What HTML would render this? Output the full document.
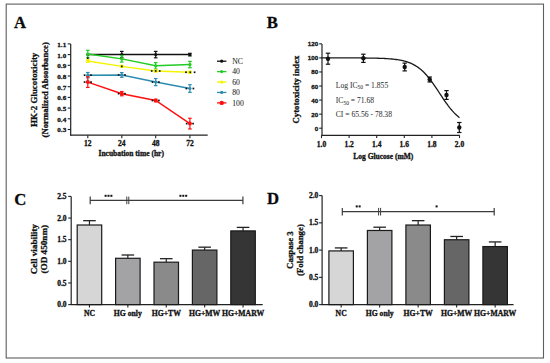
<!DOCTYPE html>
<html><head><meta charset="utf-8"><style>
html,body{margin:0;padding:0;background:#fff;width:550px;height:363px;overflow:hidden}
svg{display:block}
</style></head><body>
<svg width="550" height="363" viewBox="0 0 550 363">
<rect width="550" height="363" fill="#fff"/>
<rect x="6.2" y="4.1" width="537.3" height="353.9" fill="none" stroke="#5e5e5e" stroke-width="1.1"/>
<text x="19.95" y="28.3" font-size="16.7" text-anchor="middle" font-weight="bold" font-family='"Liberation Serif", serif' fill="#0a0a0a" stroke="#0a0a0a" stroke-width="0.3" >A</text>
<text x="272.25" y="27.9" font-size="16.7" text-anchor="middle" font-weight="bold" font-family='"Liberation Serif", serif' fill="#0a0a0a" stroke="#0a0a0a" stroke-width="0.3" >B</text>
<text x="20.25" y="204.8" font-size="16.7" text-anchor="middle" font-weight="bold" font-family='"Liberation Serif", serif' fill="#0a0a0a" stroke="#0a0a0a" stroke-width="0.3" >C</text>
<text x="273.1" y="204.2" font-size="16.7" text-anchor="middle" font-weight="bold" font-family='"Liberation Serif", serif' fill="#0a0a0a" stroke="#0a0a0a" stroke-width="0.3" >D</text>
<line x1="70.7" y1="43.9" x2="70.7" y2="135.7" stroke="#222" stroke-width="1.2"/>
<line x1="70.2" y1="135.2" x2="207.7" y2="135.2" stroke="#222" stroke-width="1.2"/>
<line x1="67.7" y1="129.5" x2="70.7" y2="129.5" stroke="#222" stroke-width="1.1"/>
<text x="66.2" y="132.45" font-size="7.1" text-anchor="end" font-weight="bold" font-family='"Liberation Serif", serif' fill="#111" stroke="#111" stroke-width="0.3" >0.3</text>
<line x1="67.7" y1="118.8" x2="70.7" y2="118.8" stroke="#222" stroke-width="1.1"/>
<text x="66.2" y="121.75" font-size="7.1" text-anchor="end" font-weight="bold" font-family='"Liberation Serif", serif' fill="#111" stroke="#111" stroke-width="0.3" >0.4</text>
<line x1="67.7" y1="108.1" x2="70.7" y2="108.1" stroke="#222" stroke-width="1.1"/>
<text x="66.2" y="111.05" font-size="7.1" text-anchor="end" font-weight="bold" font-family='"Liberation Serif", serif' fill="#111" stroke="#111" stroke-width="0.3" >0.5</text>
<line x1="67.7" y1="97.4" x2="70.7" y2="97.4" stroke="#222" stroke-width="1.1"/>
<text x="66.2" y="100.35000000000001" font-size="7.1" text-anchor="end" font-weight="bold" font-family='"Liberation Serif", serif' fill="#111" stroke="#111" stroke-width="0.3" >0.6</text>
<line x1="67.7" y1="86.7" x2="70.7" y2="86.7" stroke="#222" stroke-width="1.1"/>
<text x="66.2" y="89.65" font-size="7.1" text-anchor="end" font-weight="bold" font-family='"Liberation Serif", serif' fill="#111" stroke="#111" stroke-width="0.3" >0.7</text>
<line x1="67.7" y1="76.0" x2="70.7" y2="76.0" stroke="#222" stroke-width="1.1"/>
<text x="66.2" y="78.95" font-size="7.1" text-anchor="end" font-weight="bold" font-family='"Liberation Serif", serif' fill="#111" stroke="#111" stroke-width="0.3" >0.8</text>
<line x1="67.7" y1="65.3" x2="70.7" y2="65.3" stroke="#222" stroke-width="1.1"/>
<text x="66.2" y="68.25" font-size="7.1" text-anchor="end" font-weight="bold" font-family='"Liberation Serif", serif' fill="#111" stroke="#111" stroke-width="0.3" >0.9</text>
<line x1="67.7" y1="54.60000000000001" x2="70.7" y2="54.60000000000001" stroke="#222" stroke-width="1.1"/>
<text x="66.2" y="57.55000000000001" font-size="7.1" text-anchor="end" font-weight="bold" font-family='"Liberation Serif", serif' fill="#111" stroke="#111" stroke-width="0.3" >1.0</text>
<line x1="67.7" y1="43.89999999999999" x2="70.7" y2="43.89999999999999" stroke="#222" stroke-width="1.1"/>
<text x="66.2" y="46.849999999999994" font-size="7.1" text-anchor="end" font-weight="bold" font-family='"Liberation Serif", serif' fill="#111" stroke="#111" stroke-width="0.3" >1.1</text>
<line x1="87.8" y1="135.2" x2="87.8" y2="138.2" stroke="#222" stroke-width="1.1"/>
<text x="87.8" y="145.8" font-size="7.5" text-anchor="middle" font-weight="bold" font-family='"Liberation Serif", serif' fill="#111" stroke="#111" stroke-width="0.3" >12</text>
<line x1="121.8" y1="135.2" x2="121.8" y2="138.2" stroke="#222" stroke-width="1.1"/>
<text x="121.8" y="145.8" font-size="7.5" text-anchor="middle" font-weight="bold" font-family='"Liberation Serif", serif' fill="#111" stroke="#111" stroke-width="0.3" >24</text>
<line x1="155.7" y1="135.2" x2="155.7" y2="138.2" stroke="#222" stroke-width="1.1"/>
<text x="155.7" y="145.8" font-size="7.5" text-anchor="middle" font-weight="bold" font-family='"Liberation Serif", serif' fill="#111" stroke="#111" stroke-width="0.3" >48</text>
<line x1="189.9" y1="135.2" x2="189.9" y2="138.2" stroke="#222" stroke-width="1.1"/>
<text x="189.9" y="145.8" font-size="7.5" text-anchor="middle" font-weight="bold" font-family='"Liberation Serif", serif' fill="#111" stroke="#111" stroke-width="0.3" >72</text>
<text x="131.2" y="155.7" font-size="7.5" text-anchor="middle" font-weight="bold" font-family='"Liberation Serif", serif' fill="#111" stroke="#111" stroke-width="0.3" >Incubation time (hr)</text>
<g transform="translate(37.3,89.8) rotate(-90)">
<text x="0" y="0" font-size="8.9" text-anchor="middle" font-weight="bold" font-family='"Liberation Serif", serif' fill="#111" stroke="#111" stroke-width="0.3" >HK-2 Glucotoxicity</text>
<text x="0" y="10.3" font-size="8.7" text-anchor="middle" font-weight="bold" font-family='"Liberation Serif", serif' fill="#111" stroke="#111" stroke-width="0.3" >(Normalized Absorbance)</text>
</g>
<polyline points="87.8,54.60 121.8,54.60 155.7,54.60 189.9,54.60" fill="none" stroke="#111111" stroke-width="1.5"/>
<circle cx="87.8" cy="54.60" r="1.6" fill="#111111"/>
<line x1="121.8" y1="51.39000000000001" x2="121.8" y2="57.81000000000001" stroke="#111111" stroke-width="1.2"/>
<line x1="120.0" y1="51.39000000000001" x2="123.6" y2="51.39000000000001" stroke="#111111" stroke-width="1.2"/>
<line x1="120.0" y1="57.81000000000001" x2="123.6" y2="57.81000000000001" stroke="#111111" stroke-width="1.2"/>
<circle cx="121.8" cy="54.60" r="1.6" fill="#111111"/>
<line x1="155.7" y1="51.39000000000001" x2="155.7" y2="57.81000000000001" stroke="#111111" stroke-width="1.2"/>
<line x1="153.89999999999998" y1="51.39000000000001" x2="157.5" y2="51.39000000000001" stroke="#111111" stroke-width="1.2"/>
<line x1="153.89999999999998" y1="57.81000000000001" x2="157.5" y2="57.81000000000001" stroke="#111111" stroke-width="1.2"/>
<circle cx="155.7" cy="54.60" r="1.6" fill="#111111"/>
<line x1="189.9" y1="53.31600000000001" x2="189.9" y2="55.88400000000001" stroke="#111111" stroke-width="1.2"/>
<line x1="188.1" y1="53.31600000000001" x2="191.70000000000002" y2="53.31600000000001" stroke="#111111" stroke-width="1.2"/>
<line x1="188.1" y1="55.88400000000001" x2="191.70000000000002" y2="55.88400000000001" stroke="#111111" stroke-width="1.2"/>
<circle cx="189.9" cy="54.60" r="1.6" fill="#111111"/>
<polyline points="87.8,54.07 121.8,58.88 155.7,65.84 189.9,64.55" fill="none" stroke="#22cc22" stroke-width="1.5"/>
<line x1="87.8" y1="50.320000000000014" x2="87.8" y2="57.81000000000001" stroke="#22cc22" stroke-width="1.2"/>
<line x1="86.0" y1="50.320000000000014" x2="89.6" y2="50.320000000000014" stroke="#22cc22" stroke-width="1.2"/>
<line x1="86.0" y1="57.81000000000001" x2="89.6" y2="57.81000000000001" stroke="#22cc22" stroke-width="1.2"/>
<circle cx="87.8" cy="54.07" r="1.6" fill="#22cc22"/>
<line x1="121.8" y1="55.67000000000001" x2="121.8" y2="62.09000000000001" stroke="#22cc22" stroke-width="1.2"/>
<line x1="120.0" y1="55.67000000000001" x2="123.6" y2="55.67000000000001" stroke="#22cc22" stroke-width="1.2"/>
<line x1="120.0" y1="62.09000000000001" x2="123.6" y2="62.09000000000001" stroke="#22cc22" stroke-width="1.2"/>
<circle cx="121.8" cy="58.88" r="1.6" fill="#22cc22"/>
<line x1="155.7" y1="62.62500000000001" x2="155.7" y2="69.045" stroke="#22cc22" stroke-width="1.2"/>
<line x1="153.89999999999998" y1="62.62500000000001" x2="157.5" y2="62.62500000000001" stroke="#22cc22" stroke-width="1.2"/>
<line x1="153.89999999999998" y1="69.045" x2="157.5" y2="69.045" stroke="#22cc22" stroke-width="1.2"/>
<circle cx="155.7" cy="65.84" r="1.6" fill="#22cc22"/>
<line x1="189.9" y1="61.341" x2="189.9" y2="67.761" stroke="#22cc22" stroke-width="1.2"/>
<line x1="188.1" y1="61.341" x2="191.70000000000002" y2="61.341" stroke="#22cc22" stroke-width="1.2"/>
<line x1="188.1" y1="67.761" x2="191.70000000000002" y2="67.761" stroke="#22cc22" stroke-width="1.2"/>
<circle cx="189.9" cy="64.55" r="1.6" fill="#22cc22"/>
<polyline points="87.8,61.02 121.8,66.37 155.7,70.97 189.9,72.26" fill="none" stroke="#f4f400" stroke-width="1.5"/>
<line x1="87.8" y1="59.73600000000001" x2="87.8" y2="62.30400000000001" stroke="#f4f400" stroke-width="1.2"/>
<line x1="86.0" y1="59.73600000000001" x2="89.6" y2="59.73600000000001" stroke="#f4f400" stroke-width="1.2"/>
<line x1="86.0" y1="62.30400000000001" x2="89.6" y2="62.30400000000001" stroke="#f4f400" stroke-width="1.2"/>
<circle cx="87.8" cy="61.02" r="1.6" fill="#f4f400"/>
<line x1="121.8" y1="65.3" x2="121.8" y2="67.43999999999998" stroke="#f4f400" stroke-width="1.2"/>
<line x1="120.0" y1="65.3" x2="123.6" y2="65.3" stroke="#f4f400" stroke-width="1.2"/>
<line x1="120.0" y1="67.43999999999998" x2="123.6" y2="67.43999999999998" stroke="#f4f400" stroke-width="1.2"/>
<circle cx="121.8" cy="66.37" r="1.6" fill="#f4f400"/>
<line x1="155.7" y1="69.90100000000001" x2="155.7" y2="72.041" stroke="#f4f400" stroke-width="1.2"/>
<line x1="153.89999999999998" y1="69.90100000000001" x2="157.5" y2="69.90100000000001" stroke="#f4f400" stroke-width="1.2"/>
<line x1="153.89999999999998" y1="72.041" x2="157.5" y2="72.041" stroke="#f4f400" stroke-width="1.2"/>
<circle cx="155.7" cy="70.97" r="1.6" fill="#f4f400"/>
<line x1="189.9" y1="71.18500000000002" x2="189.9" y2="73.325" stroke="#f4f400" stroke-width="1.2"/>
<line x1="188.1" y1="71.18500000000002" x2="191.70000000000002" y2="71.18500000000002" stroke="#f4f400" stroke-width="1.2"/>
<line x1="188.1" y1="73.325" x2="191.70000000000002" y2="73.325" stroke="#f4f400" stroke-width="1.2"/>
<circle cx="189.9" cy="72.26" r="1.6" fill="#f4f400"/>
<polyline points="87.8,75.14 121.8,74.93 155.7,82.10 189.9,88.52" fill="none" stroke="#2b8cb0" stroke-width="1.5"/>
<line x1="87.8" y1="72.46900000000001" x2="87.8" y2="77.819" stroke="#2b8cb0" stroke-width="1.2"/>
<line x1="86.0" y1="72.46900000000001" x2="89.6" y2="72.46900000000001" stroke="#2b8cb0" stroke-width="1.2"/>
<line x1="86.0" y1="77.819" x2="89.6" y2="77.819" stroke="#2b8cb0" stroke-width="1.2"/>
<circle cx="87.8" cy="75.14" r="1.6" fill="#2b8cb0"/>
<line x1="121.8" y1="72.57600000000001" x2="121.8" y2="77.284" stroke="#2b8cb0" stroke-width="1.2"/>
<line x1="120.0" y1="72.57600000000001" x2="123.6" y2="72.57600000000001" stroke="#2b8cb0" stroke-width="1.2"/>
<line x1="120.0" y1="77.284" x2="123.6" y2="77.284" stroke="#2b8cb0" stroke-width="1.2"/>
<circle cx="121.8" cy="74.93" r="1.6" fill="#2b8cb0"/>
<line x1="155.7" y1="78.56799999999998" x2="155.7" y2="85.63" stroke="#2b8cb0" stroke-width="1.2"/>
<line x1="153.89999999999998" y1="78.56799999999998" x2="157.5" y2="78.56799999999998" stroke="#2b8cb0" stroke-width="1.2"/>
<line x1="153.89999999999998" y1="85.63" x2="157.5" y2="85.63" stroke="#2b8cb0" stroke-width="1.2"/>
<circle cx="155.7" cy="82.10" r="1.6" fill="#2b8cb0"/>
<line x1="189.9" y1="84.66699999999999" x2="189.9" y2="92.371" stroke="#2b8cb0" stroke-width="1.2"/>
<line x1="188.1" y1="84.66699999999999" x2="191.70000000000002" y2="84.66699999999999" stroke="#2b8cb0" stroke-width="1.2"/>
<line x1="188.1" y1="92.371" x2="191.70000000000002" y2="92.371" stroke="#2b8cb0" stroke-width="1.2"/>
<circle cx="189.9" cy="88.52" r="1.6" fill="#2b8cb0"/>
<polyline points="87.8,82.10 121.8,93.66 155.7,100.50 189.9,123.61" fill="none" stroke="#ff1010" stroke-width="1.5"/>
<line x1="87.8" y1="76.749" x2="87.8" y2="87.44899999999998" stroke="#ff1010" stroke-width="1.2"/>
<line x1="86.0" y1="76.749" x2="89.6" y2="76.749" stroke="#ff1010" stroke-width="1.2"/>
<line x1="86.0" y1="87.44899999999998" x2="89.6" y2="87.44899999999998" stroke="#ff1010" stroke-width="1.2"/>
<circle cx="87.8" cy="82.10" r="2.0" fill="#ff1010"/>
<line x1="121.8" y1="91.515" x2="121.8" y2="95.795" stroke="#ff1010" stroke-width="1.2"/>
<line x1="120.0" y1="91.515" x2="123.6" y2="91.515" stroke="#ff1010" stroke-width="1.2"/>
<line x1="120.0" y1="95.795" x2="123.6" y2="95.795" stroke="#ff1010" stroke-width="1.2"/>
<circle cx="121.8" cy="93.66" r="2.0" fill="#ff1010"/>
<line x1="155.7" y1="99.219" x2="155.7" y2="101.787" stroke="#ff1010" stroke-width="1.2"/>
<line x1="153.89999999999998" y1="99.219" x2="157.5" y2="99.219" stroke="#ff1010" stroke-width="1.2"/>
<line x1="153.89999999999998" y1="101.787" x2="157.5" y2="101.787" stroke="#ff1010" stroke-width="1.2"/>
<circle cx="155.7" cy="100.50" r="2.0" fill="#ff1010"/>
<line x1="189.9" y1="118.265" x2="189.9" y2="128.965" stroke="#ff1010" stroke-width="1.2"/>
<line x1="188.1" y1="118.265" x2="191.70000000000002" y2="118.265" stroke="#ff1010" stroke-width="1.2"/>
<line x1="188.1" y1="128.965" x2="191.70000000000002" y2="128.965" stroke="#ff1010" stroke-width="1.2"/>
<circle cx="189.9" cy="123.61" r="2.0" fill="#ff1010"/>
<rect x="83.75" y="74.29" width="1.7" height="1.7" fill="#111"/>
<rect x="90.15" y="74.29" width="1.7" height="1.7" fill="#111"/>
<rect x="83.75" y="81.25" width="1.7" height="1.7" fill="#111"/>
<rect x="90.15" y="81.25" width="1.7" height="1.7" fill="#111"/>
<rect x="86.95" y="57.25" width="1.7" height="1.7" fill="#111"/>
<rect x="120.95" y="65.52" width="1.7" height="1.7" fill="#111"/>
<rect x="117.75" y="74.08" width="1.7" height="1.7" fill="#111"/>
<rect x="124.15" y="74.08" width="1.7" height="1.7" fill="#111"/>
<rect x="117.75" y="92.81" width="1.7" height="1.7" fill="#111"/>
<rect x="124.15" y="92.81" width="1.7" height="1.7" fill="#111"/>
<rect x="154.85" y="70.12" width="1.7" height="1.7" fill="#111"/>
<rect x="150.85" y="70.12" width="1.7" height="1.7" fill="#111"/>
<rect x="158.85" y="70.12" width="1.7" height="1.7" fill="#111"/>
<rect x="151.65" y="81.25" width="1.7" height="1.7" fill="#111"/>
<rect x="158.05" y="81.25" width="1.7" height="1.7" fill="#111"/>
<rect x="151.65" y="99.65" width="1.7" height="1.7" fill="#111"/>
<rect x="158.05" y="99.65" width="1.7" height="1.7" fill="#111"/>
<rect x="189.45" y="71.41" width="1.7" height="1.7" fill="#111"/>
<rect x="185.15" y="71.41" width="1.7" height="1.7" fill="#111"/>
<rect x="193.75" y="71.41" width="1.7" height="1.7" fill="#111"/>
<rect x="185.55" y="87.67" width="1.7" height="1.7" fill="#111"/>
<rect x="192.55" y="87.67" width="1.7" height="1.7" fill="#111"/>
<rect x="185.85" y="122.77" width="1.7" height="1.7" fill="#111"/>
<rect x="192.25" y="122.77" width="1.7" height="1.7" fill="#111"/>
<line x1="217" y1="61.2" x2="226.4" y2="61.2" stroke="#111111" stroke-width="1.3"/>
<circle cx="221.7" cy="61.20" r="1.6" fill="#111111"/>
<text x="232.2" y="64.0" font-size="7.7" text-anchor="start" font-weight="normal" font-family='"Liberation Serif", serif' fill="#222" stroke="#222" stroke-width="0.05" >NC</text>
<line x1="217" y1="71.62" x2="226.4" y2="71.62" stroke="#22cc22" stroke-width="1.3"/>
<circle cx="221.7" cy="71.62" r="1.6" fill="#22cc22"/>
<text x="232.2" y="74.42" font-size="7.7" text-anchor="start" font-weight="normal" font-family='"Liberation Serif", serif' fill="#222" stroke="#222" stroke-width="0.05" >40</text>
<line x1="217" y1="82.04" x2="226.4" y2="82.04" stroke="#f4f400" stroke-width="1.3"/>
<circle cx="221.7" cy="82.04" r="1.6" fill="#f4f400"/>
<text x="232.2" y="84.84" font-size="7.7" text-anchor="start" font-weight="normal" font-family='"Liberation Serif", serif' fill="#222" stroke="#222" stroke-width="0.05" >60</text>
<line x1="217" y1="92.46000000000001" x2="226.4" y2="92.46000000000001" stroke="#2b8cb0" stroke-width="1.3"/>
<circle cx="221.7" cy="92.46" r="1.6" fill="#2b8cb0"/>
<text x="232.2" y="95.26" font-size="7.7" text-anchor="start" font-weight="normal" font-family='"Liberation Serif", serif' fill="#222" stroke="#222" stroke-width="0.05" >80</text>
<line x1="217" y1="102.88" x2="226.4" y2="102.88" stroke="#ff1010" stroke-width="1.3"/>
<circle cx="221.7" cy="102.88" r="2.2" fill="#ff1010"/>
<text x="232.2" y="105.67999999999999" font-size="7.7" text-anchor="start" font-weight="normal" font-family='"Liberation Serif", serif' fill="#222" stroke="#222" stroke-width="0.05" >100</text>
<line x1="322" y1="43.9" x2="322" y2="135.8" stroke="#222" stroke-width="1.2"/>
<line x1="321.5" y1="135.3" x2="459.8" y2="135.3" stroke="#222" stroke-width="1.2"/>
<line x1="319.2" y1="128.2" x2="322" y2="128.2" stroke="#222" stroke-width="1.1"/>
<text x="318.1" y="130.7" font-size="6.2" text-anchor="end" font-weight="bold" font-family='"Liberation Sans", sans-serif' fill="#111" stroke="#111" stroke-width="0.3" >0</text>
<line x1="319.2" y1="114.13999999999999" x2="322" y2="114.13999999999999" stroke="#222" stroke-width="1.1"/>
<text x="318.1" y="116.63999999999999" font-size="6.2" text-anchor="end" font-weight="bold" font-family='"Liberation Sans", sans-serif' fill="#111" stroke="#111" stroke-width="0.3" >20</text>
<line x1="319.2" y1="100.07999999999998" x2="322" y2="100.07999999999998" stroke="#222" stroke-width="1.1"/>
<text x="318.1" y="102.57999999999998" font-size="6.2" text-anchor="end" font-weight="bold" font-family='"Liberation Sans", sans-serif' fill="#111" stroke="#111" stroke-width="0.3" >40</text>
<line x1="319.2" y1="86.01999999999998" x2="322" y2="86.01999999999998" stroke="#222" stroke-width="1.1"/>
<text x="318.1" y="88.51999999999998" font-size="6.2" text-anchor="end" font-weight="bold" font-family='"Liberation Sans", sans-serif' fill="#111" stroke="#111" stroke-width="0.3" >60</text>
<line x1="319.2" y1="71.96" x2="322" y2="71.96" stroke="#222" stroke-width="1.1"/>
<text x="318.1" y="74.46" font-size="6.2" text-anchor="end" font-weight="bold" font-family='"Liberation Sans", sans-serif' fill="#111" stroke="#111" stroke-width="0.3" >80</text>
<line x1="319.2" y1="57.89999999999999" x2="322" y2="57.89999999999999" stroke="#222" stroke-width="1.1"/>
<text x="318.1" y="60.39999999999999" font-size="6.2" text-anchor="end" font-weight="bold" font-family='"Liberation Sans", sans-serif' fill="#111" stroke="#111" stroke-width="0.3" >100</text>
<line x1="319.2" y1="43.83999999999999" x2="322" y2="43.83999999999999" stroke="#222" stroke-width="1.1"/>
<text x="318.1" y="46.33999999999999" font-size="6.2" text-anchor="end" font-weight="bold" font-family='"Liberation Sans", sans-serif' fill="#111" stroke="#111" stroke-width="0.3" >120</text>
<line x1="321.5" y1="135.3" x2="321.5" y2="138.10000000000002" stroke="#222" stroke-width="1.1"/>
<text x="321.5" y="146.8" font-size="7.5" text-anchor="middle" font-weight="bold" font-family='"Liberation Serif", serif' fill="#111" stroke="#111" stroke-width="0.3" >1.0</text>
<line x1="349.1" y1="135.3" x2="349.1" y2="138.10000000000002" stroke="#222" stroke-width="1.1"/>
<text x="349.1" y="146.8" font-size="7.5" text-anchor="middle" font-weight="bold" font-family='"Liberation Serif", serif' fill="#111" stroke="#111" stroke-width="0.3" >1.2</text>
<line x1="376.7" y1="135.3" x2="376.7" y2="138.10000000000002" stroke="#222" stroke-width="1.1"/>
<text x="376.7" y="146.8" font-size="7.5" text-anchor="middle" font-weight="bold" font-family='"Liberation Serif", serif' fill="#111" stroke="#111" stroke-width="0.3" >1.4</text>
<line x1="404.3" y1="135.3" x2="404.3" y2="138.10000000000002" stroke="#222" stroke-width="1.1"/>
<text x="404.3" y="146.8" font-size="7.5" text-anchor="middle" font-weight="bold" font-family='"Liberation Serif", serif' fill="#111" stroke="#111" stroke-width="0.3" >1.6</text>
<line x1="431.9" y1="135.3" x2="431.9" y2="138.10000000000002" stroke="#222" stroke-width="1.1"/>
<text x="431.9" y="146.8" font-size="7.5" text-anchor="middle" font-weight="bold" font-family='"Liberation Serif", serif' fill="#111" stroke="#111" stroke-width="0.3" >1.8</text>
<line x1="459.5" y1="135.3" x2="459.5" y2="138.10000000000002" stroke="#222" stroke-width="1.1"/>
<text x="459.5" y="146.8" font-size="7.5" text-anchor="middle" font-weight="bold" font-family='"Liberation Serif", serif' fill="#111" stroke="#111" stroke-width="0.3" >2.0</text>
<text x="383.3" y="158.8" font-size="7.5" text-anchor="middle" font-weight="bold" font-family='"Liberation Serif", serif' fill="#111" stroke="#111" stroke-width="0.3" >Log Glucose (mM)</text>
<g transform="translate(298.9,89.55) rotate(-90)">
<text x="0" y="0" font-size="8.7" text-anchor="middle" font-weight="bold" font-family='"Liberation Serif", serif' fill="#111" stroke="#111" stroke-width="0.3" >Cytotoxicity index</text>
</g>
<polyline points="321.50,57.90 322.88,57.90 324.26,57.90 325.64,57.90 327.02,57.90 328.40,57.90 329.78,57.91 331.16,57.91 332.54,57.91 333.92,57.91 335.30,57.91 336.68,57.91 338.06,57.91 339.44,57.91 340.82,57.91 342.20,57.92 343.58,57.92 344.96,57.92 346.34,57.92 347.72,57.92 349.10,57.93 350.48,57.93 351.86,57.94 353.24,57.94 354.62,57.94 356.00,57.95 357.38,57.96 358.76,57.96 360.14,57.97 361.52,57.98 362.90,57.99 364.28,58.00 365.66,58.02 367.04,58.03 368.42,58.05 369.80,58.07 371.18,58.09 372.56,58.11 373.94,58.14 375.32,58.17 376.70,58.20 378.08,58.24 379.46,58.28 380.84,58.33 382.22,58.39 383.60,58.45 384.98,58.52 386.36,58.59 387.74,58.68 389.12,58.78 390.50,58.89 391.88,59.01 393.26,59.15 394.64,59.31 396.02,59.48 397.40,59.68 398.78,59.90 400.16,60.14 401.54,60.42 402.92,60.73 404.30,61.07 405.68,61.45 407.06,61.88 408.44,62.35 409.82,62.88 411.20,63.46 412.58,64.11 413.96,64.82 415.34,65.60 416.72,66.46 418.10,67.40 419.48,68.43 420.86,69.55 422.24,70.76 423.62,72.07 425.00,73.47 426.38,74.97 427.76,76.56 429.14,78.25 430.52,80.02 431.90,81.88 433.28,83.80 434.66,85.79 436.04,87.83 437.42,89.90 438.80,92.00 440.18,94.10 441.56,96.20 442.94,98.27 444.32,100.31 445.70,102.30 447.08,104.22 448.46,106.08 449.84,107.85 451.22,109.54 452.60,111.13 453.98,112.63 455.36,114.03 456.74,115.34 458.12,116.55 459.50,117.67" fill="none" stroke="#1a1a1a" stroke-width="1.3"/>
<line x1="328" y1="53.2" x2="328" y2="64.2" stroke="#111" stroke-width="1.2"/>
<line x1="325.8" y1="53.2" x2="330.2" y2="53.2" stroke="#111" stroke-width="1.2"/>
<line x1="325.8" y1="64.2" x2="330.2" y2="64.2" stroke="#111" stroke-width="1.2"/>
<circle cx="328" cy="58.7" r="2.2" fill="#111"/>
<line x1="363.4" y1="54.199999999999996" x2="363.4" y2="62.4" stroke="#111" stroke-width="1.2"/>
<line x1="361.2" y1="54.199999999999996" x2="365.59999999999997" y2="54.199999999999996" stroke="#111" stroke-width="1.2"/>
<line x1="361.2" y1="62.4" x2="365.59999999999997" y2="62.4" stroke="#111" stroke-width="1.2"/>
<circle cx="363.4" cy="58.3" r="2.2" fill="#111"/>
<line x1="404.7" y1="63.1" x2="404.7" y2="70.9" stroke="#111" stroke-width="1.2"/>
<line x1="402.5" y1="63.1" x2="406.9" y2="63.1" stroke="#111" stroke-width="1.2"/>
<line x1="402.5" y1="70.9" x2="406.9" y2="70.9" stroke="#111" stroke-width="1.2"/>
<circle cx="404.7" cy="67" r="2.2" fill="#111"/>
<line x1="429.7" y1="77.0" x2="429.7" y2="82.0" stroke="#111" stroke-width="1.2"/>
<line x1="427.5" y1="77.0" x2="431.9" y2="77.0" stroke="#111" stroke-width="1.2"/>
<line x1="427.5" y1="82.0" x2="431.9" y2="82.0" stroke="#111" stroke-width="1.2"/>
<circle cx="429.7" cy="79.5" r="2.2" fill="#111"/>
<line x1="446.5" y1="90.6" x2="446.5" y2="99.4" stroke="#111" stroke-width="1.2"/>
<line x1="444.3" y1="90.6" x2="448.7" y2="90.6" stroke="#111" stroke-width="1.2"/>
<line x1="444.3" y1="99.4" x2="448.7" y2="99.4" stroke="#111" stroke-width="1.2"/>
<circle cx="446.5" cy="95" r="2.2" fill="#111"/>
<line x1="459.3" y1="122.5" x2="459.3" y2="132.5" stroke="#111" stroke-width="1.2"/>
<line x1="457.1" y1="122.5" x2="461.5" y2="122.5" stroke="#111" stroke-width="1.2"/>
<line x1="457.1" y1="132.5" x2="461.5" y2="132.5" stroke="#111" stroke-width="1.2"/>
<circle cx="459.3" cy="127.5" r="2.2" fill="#111"/>
<text x="335.8" y="87.8" font-size="7.6" text-anchor="start" font-weight="normal" font-family='"Liberation Serif", serif' fill="#333" stroke="#333" stroke-width="0.05" >Log IC<tspan font-size="5.5" dy="1.6">50</tspan><tspan dy="-1.6"> = 1.855</tspan></text>
<text x="335.8" y="103.4" font-size="7.6" text-anchor="start" font-weight="normal" font-family='"Liberation Serif", serif' fill="#333" stroke="#333" stroke-width="0.05" >IC<tspan font-size="5.5" dy="1.6">50</tspan><tspan dy="-1.6"> = 71.68</tspan></text>
<text x="335.8" y="117.2" font-size="7.6" text-anchor="start" font-weight="normal" font-family='"Liberation Serif", serif' fill="#333" stroke="#333" stroke-width="0.05" >CI = 65.56 - 78.38</text>
<line x1="71.2" y1="196.4" x2="71.2" y2="305.1" stroke="#222" stroke-width="1.2"/>
<line x1="70.7" y1="304.6" x2="262.7" y2="304.6" stroke="#222" stroke-width="1.2"/>
<line x1="68.2" y1="304.6" x2="71.2" y2="304.6" stroke="#222" stroke-width="1.1"/>
<text x="66.60000000000001" y="307.20000000000005" font-size="7.5" text-anchor="end" font-weight="bold" font-family='"Liberation Serif", serif' fill="#111" stroke="#111" stroke-width="0.3" >0.0</text>
<line x1="68.2" y1="282.96000000000004" x2="71.2" y2="282.96000000000004" stroke="#222" stroke-width="1.1"/>
<text x="66.60000000000001" y="285.56000000000006" font-size="7.5" text-anchor="end" font-weight="bold" font-family='"Liberation Serif", serif' fill="#111" stroke="#111" stroke-width="0.3" >0.5</text>
<line x1="68.2" y1="261.32000000000005" x2="71.2" y2="261.32000000000005" stroke="#222" stroke-width="1.1"/>
<text x="66.60000000000001" y="263.9200000000001" font-size="7.5" text-anchor="end" font-weight="bold" font-family='"Liberation Serif", serif' fill="#111" stroke="#111" stroke-width="0.3" >1.0</text>
<line x1="68.2" y1="239.68" x2="71.2" y2="239.68" stroke="#222" stroke-width="1.1"/>
<text x="66.60000000000001" y="242.28" font-size="7.5" text-anchor="end" font-weight="bold" font-family='"Liberation Serif", serif' fill="#111" stroke="#111" stroke-width="0.3" >1.5</text>
<line x1="68.2" y1="218.04000000000002" x2="71.2" y2="218.04000000000002" stroke="#222" stroke-width="1.1"/>
<text x="66.60000000000001" y="220.64000000000001" font-size="7.5" text-anchor="end" font-weight="bold" font-family='"Liberation Serif", serif' fill="#111" stroke="#111" stroke-width="0.3" >2.0</text>
<line x1="68.2" y1="196.40000000000003" x2="71.2" y2="196.40000000000003" stroke="#222" stroke-width="1.1"/>
<text x="66.60000000000001" y="199.00000000000003" font-size="7.5" text-anchor="end" font-weight="bold" font-family='"Liberation Serif", serif' fill="#111" stroke="#111" stroke-width="0.3" >2.5</text>
<line x1="89.45" y1="220.68008" x2="89.45" y2="225.00808" stroke="#222" stroke-width="1.2"/>
<line x1="83.15" y1="220.68008" x2="95.75" y2="220.68008" stroke="#222" stroke-width="1.3"/>
<rect x="77.2" y="225.00808" width="24.5" height="79.59192000000002" fill="#d6d6d6" stroke="#1a1a1a" stroke-width="1.2"/>
<line x1="89.45" y1="304.6" x2="89.45" y2="307.6" stroke="#222" stroke-width="1.1"/>
<text x="89.45" y="316.1" font-size="7.7" text-anchor="middle" font-weight="bold" font-family='"Liberation Serif", serif' fill="#111" stroke="#111" stroke-width="0.3" >NC</text>
<line x1="127.85" y1="255.00112000000004" x2="127.85" y2="258.29040000000003" stroke="#222" stroke-width="1.2"/>
<line x1="121.55" y1="255.00112000000004" x2="134.15" y2="255.00112000000004" stroke="#222" stroke-width="1.3"/>
<rect x="115.6" y="258.29040000000003" width="24.5" height="46.30959999999999" fill="#a3a3a6" stroke="#1a1a1a" stroke-width="1.2"/>
<line x1="127.85" y1="304.6" x2="127.85" y2="307.6" stroke="#222" stroke-width="1.1"/>
<text x="127.85" y="316.1" font-size="7.7" text-anchor="middle" font-weight="bold" font-family='"Liberation Serif", serif' fill="#111" stroke="#111" stroke-width="0.3" >HG only</text>
<line x1="166.25" y1="258.67992000000004" x2="166.25" y2="262.1856" stroke="#222" stroke-width="1.2"/>
<line x1="159.95" y1="258.67992000000004" x2="172.55" y2="258.67992000000004" stroke="#222" stroke-width="1.3"/>
<rect x="154.0" y="262.1856" width="24.5" height="42.4144" fill="#8a8a8a" stroke="#1a1a1a" stroke-width="1.2"/>
<line x1="166.25" y1="304.6" x2="166.25" y2="307.6" stroke="#222" stroke-width="1.1"/>
<text x="166.25" y="316.1" font-size="7.7" text-anchor="middle" font-weight="bold" font-family='"Liberation Serif", serif' fill="#111" stroke="#111" stroke-width="0.3" >HG+TW</text>
<line x1="204.65" y1="247.16744000000003" x2="204.65" y2="250.0672" stroke="#222" stroke-width="1.2"/>
<line x1="198.35" y1="247.16744000000003" x2="210.95000000000002" y2="247.16744000000003" stroke="#222" stroke-width="1.3"/>
<rect x="192.4" y="250.0672" width="24.5" height="54.53280000000001" fill="#666666" stroke="#1a1a1a" stroke-width="1.2"/>
<line x1="204.65" y1="304.6" x2="204.65" y2="307.6" stroke="#222" stroke-width="1.1"/>
<text x="204.65" y="316.1" font-size="7.7" text-anchor="middle" font-weight="bold" font-family='"Liberation Serif", serif' fill="#111" stroke="#111" stroke-width="0.3" >HG+MW</text>
<line x1="243.05" y1="227.38848" x2="243.05" y2="230.89416" stroke="#222" stroke-width="1.2"/>
<line x1="236.75" y1="227.38848" x2="249.35000000000002" y2="227.38848" stroke="#222" stroke-width="1.3"/>
<rect x="230.8" y="230.89416" width="24.5" height="73.70584000000002" fill="#353535" stroke="#1a1a1a" stroke-width="1.2"/>
<line x1="243.05" y1="304.6" x2="243.05" y2="307.6" stroke="#222" stroke-width="1.1"/>
<text x="243.05" y="316.1" font-size="7.7" text-anchor="middle" font-weight="bold" font-family='"Liberation Serif", serif' fill="#111" stroke="#111" stroke-width="0.3" >HG+MARW</text>
<g transform="translate(36.5,249.2) rotate(-90)">
<text x="0" y="0" font-size="9.2" text-anchor="middle" font-weight="bold" font-family='"Liberation Serif", serif' fill="#111" stroke="#111" stroke-width="0.3" >Cell viability</text>
<text x="0" y="10.2" font-size="9.2" text-anchor="middle" font-weight="bold" font-family='"Liberation Serif", serif' fill="#111" stroke="#111" stroke-width="0.3" >(OD 450nm)</text>
</g>
<line x1="90.2" y1="200.4" x2="242.9" y2="200.4" stroke="#3c3c3c" stroke-width="1.2"/>
<line x1="90.2" y1="196.6" x2="90.2" y2="204.20000000000002" stroke="#3c3c3c" stroke-width="1.2"/>
<line x1="242.9" y1="196.6" x2="242.9" y2="204.20000000000002" stroke="#3c3c3c" stroke-width="1.2"/>
<line x1="126.8" y1="196.6" x2="126.8" y2="204.20000000000002" stroke="#3c3c3c" stroke-width="1"/>
<line x1="128.8" y1="196.6" x2="128.8" y2="204.20000000000002" stroke="#3c3c3c" stroke-width="1"/>
<rect x="104.60" y="194.80" width="2" height="2" fill="#111"/>
<rect x="107.50" y="194.80" width="2" height="2" fill="#111"/>
<rect x="110.40" y="194.80" width="2" height="2" fill="#111"/>
<rect x="179.40" y="194.80" width="2" height="2" fill="#111"/>
<rect x="182.30" y="194.80" width="2" height="2" fill="#111"/>
<rect x="185.20" y="194.80" width="2" height="2" fill="#111"/>
<line x1="322.1" y1="195.6" x2="322.1" y2="305.1" stroke="#222" stroke-width="1.2"/>
<line x1="321.6" y1="304.6" x2="513.6" y2="304.6" stroke="#222" stroke-width="1.2"/>
<line x1="319.1" y1="304.6" x2="322.1" y2="304.6" stroke="#222" stroke-width="1.1"/>
<text x="318.3" y="307.20000000000005" font-size="7.5" text-anchor="end" font-weight="bold" font-family='"Liberation Serif", serif' fill="#111" stroke="#111" stroke-width="0.3" >0.0</text>
<line x1="319.1" y1="277.35" x2="322.1" y2="277.35" stroke="#222" stroke-width="1.1"/>
<text x="318.3" y="279.95000000000005" font-size="7.5" text-anchor="end" font-weight="bold" font-family='"Liberation Serif", serif' fill="#111" stroke="#111" stroke-width="0.3" >0.5</text>
<line x1="319.1" y1="250.10000000000002" x2="322.1" y2="250.10000000000002" stroke="#222" stroke-width="1.1"/>
<text x="318.3" y="252.70000000000002" font-size="7.5" text-anchor="end" font-weight="bold" font-family='"Liberation Serif", serif' fill="#111" stroke="#111" stroke-width="0.3" >1.0</text>
<line x1="319.1" y1="222.85000000000002" x2="322.1" y2="222.85000000000002" stroke="#222" stroke-width="1.1"/>
<text x="318.3" y="225.45000000000002" font-size="7.5" text-anchor="end" font-weight="bold" font-family='"Liberation Serif", serif' fill="#111" stroke="#111" stroke-width="0.3" >1.5</text>
<line x1="319.1" y1="195.60000000000002" x2="322.1" y2="195.60000000000002" stroke="#222" stroke-width="1.1"/>
<text x="318.3" y="198.20000000000002" font-size="7.5" text-anchor="end" font-weight="bold" font-family='"Liberation Serif", serif' fill="#111" stroke="#111" stroke-width="0.3" >2.0</text>
<line x1="341.15" y1="247.92000000000002" x2="341.15" y2="250.91750000000002" stroke="#222" stroke-width="1.2"/>
<line x1="334.84999999999997" y1="247.92000000000002" x2="347.45" y2="247.92000000000002" stroke="#222" stroke-width="1.3"/>
<rect x="328.9" y="250.91750000000002" width="24.5" height="53.682500000000005" fill="#d6d6d6" stroke="#1a1a1a" stroke-width="1.2"/>
<line x1="341.15" y1="304.6" x2="341.15" y2="307.6" stroke="#222" stroke-width="1.1"/>
<text x="341.15" y="316.1" font-size="7.7" text-anchor="middle" font-weight="bold" font-family='"Liberation Serif", serif' fill="#111" stroke="#111" stroke-width="0.3" >NC</text>
<line x1="379.65" y1="227.21" x2="379.65" y2="230.48000000000002" stroke="#222" stroke-width="1.2"/>
<line x1="373.34999999999997" y1="227.21" x2="385.95" y2="227.21" stroke="#222" stroke-width="1.3"/>
<rect x="367.4" y="230.48000000000002" width="24.5" height="74.12" fill="#a3a3a6" stroke="#1a1a1a" stroke-width="1.2"/>
<line x1="379.65" y1="304.6" x2="379.65" y2="307.6" stroke="#222" stroke-width="1.1"/>
<text x="379.65" y="316.1" font-size="7.7" text-anchor="middle" font-weight="bold" font-family='"Liberation Serif", serif' fill="#111" stroke="#111" stroke-width="0.3" >HG only</text>
<line x1="418.15" y1="220.67000000000002" x2="418.15" y2="225.03000000000003" stroke="#222" stroke-width="1.2"/>
<line x1="411.84999999999997" y1="220.67000000000002" x2="424.45" y2="220.67000000000002" stroke="#222" stroke-width="1.3"/>
<rect x="405.9" y="225.03000000000003" width="24.5" height="79.57" fill="#8a8a8a" stroke="#1a1a1a" stroke-width="1.2"/>
<line x1="418.15" y1="304.6" x2="418.15" y2="307.6" stroke="#222" stroke-width="1.1"/>
<text x="418.15" y="316.1" font-size="7.7" text-anchor="middle" font-weight="bold" font-family='"Liberation Serif", serif' fill="#111" stroke="#111" stroke-width="0.3" >HG+TW</text>
<line x1="456.65" y1="236.475" x2="456.65" y2="239.745" stroke="#222" stroke-width="1.2"/>
<line x1="450.34999999999997" y1="236.475" x2="462.95" y2="236.475" stroke="#222" stroke-width="1.3"/>
<rect x="444.4" y="239.745" width="24.5" height="64.85500000000002" fill="#666666" stroke="#1a1a1a" stroke-width="1.2"/>
<line x1="456.65" y1="304.6" x2="456.65" y2="307.6" stroke="#222" stroke-width="1.1"/>
<text x="456.65" y="316.1" font-size="7.7" text-anchor="middle" font-weight="bold" font-family='"Liberation Serif", serif' fill="#111" stroke="#111" stroke-width="0.3" >HG+MW</text>
<line x1="495.15" y1="241.92500000000004" x2="495.15" y2="246.55750000000003" stroke="#222" stroke-width="1.2"/>
<line x1="488.84999999999997" y1="241.92500000000004" x2="501.45" y2="241.92500000000004" stroke="#222" stroke-width="1.3"/>
<rect x="482.9" y="246.55750000000003" width="24.5" height="58.04249999999999" fill="#353535" stroke="#1a1a1a" stroke-width="1.2"/>
<line x1="495.15" y1="304.6" x2="495.15" y2="307.6" stroke="#222" stroke-width="1.1"/>
<text x="495.15" y="316.1" font-size="7.7" text-anchor="middle" font-weight="bold" font-family='"Liberation Serif", serif' fill="#111" stroke="#111" stroke-width="0.3" >HG+MARW</text>
<g transform="translate(292.5,250.1) rotate(-90)">
<text x="0" y="0" font-size="8.9" text-anchor="middle" font-weight="bold" font-family='"Liberation Serif", serif' fill="#111" stroke="#111" stroke-width="0.3" >Caspase 3</text>
<text x="0" y="10.2" font-size="8.9" text-anchor="middle" font-weight="bold" font-family='"Liberation Serif", serif' fill="#111" stroke="#111" stroke-width="0.3" >(Fold change)</text>
</g>
<line x1="342.3" y1="211.7" x2="494.2" y2="211.7" stroke="#3c3c3c" stroke-width="1.2"/>
<line x1="342.3" y1="207.89999999999998" x2="342.3" y2="215.5" stroke="#3c3c3c" stroke-width="1.2"/>
<line x1="494.2" y1="207.89999999999998" x2="494.2" y2="215.5" stroke="#3c3c3c" stroke-width="1.2"/>
<line x1="378.6" y1="207.89999999999998" x2="378.6" y2="215.5" stroke="#3c3c3c" stroke-width="1"/>
<line x1="380.6" y1="207.89999999999998" x2="380.6" y2="215.5" stroke="#3c3c3c" stroke-width="1"/>
<rect x="355.75" y="205.40" width="2" height="2" fill="#111"/>
<rect x="358.65" y="205.40" width="2" height="2" fill="#111"/>
<rect x="435.60" y="205.40" width="2" height="2" fill="#111"/>
</svg>
</body></html>
